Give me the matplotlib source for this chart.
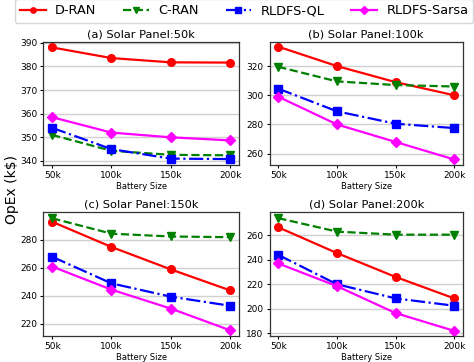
import matplotlib
matplotlib.use("Agg")
import matplotlib.pyplot as plt

battery = ["50k", "100k", "150k", "200k"]
series_names = ["D-RAN", "C-RAN", "RLDFS-QL", "RLDFS-Sarsa"]
titles = ["(a) Solar Panel:50k", "(b) Solar Panel:100k",
          "(c) Solar Panel:150k", "(d) Solar Panel:200k"]

dran = [[388.0, 383.5, 381.7, 381.6],
        [333.3, 320.0, 309.0, 300.0],
        [293.0, 275.0, 259.0, 244.0],
        [266.5, 245.5, 226.0, 208.5]]
cran = [[351.0, 344.3, 342.6, 342.4],
        [319.5, 309.5, 307.0, 306.0],
        [295.5, 284.5, 282.5, 282.0],
        [274.0, 263.0, 260.5, 260.5]]
ql = [[354.0, 345.0, 341.0, 340.8],
      [304.5, 289.0, 280.5, 277.5],
      [268.0, 249.0, 239.5, 233.0],
      [244.0, 220.0, 208.5, 202.5]]
sarsa = [[358.5, 352.0, 350.0, 348.7],
         [299.0, 280.0, 268.0, 256.0],
         [261.0, 244.5, 231.0, 215.5],
         [237.0, 218.5, 196.5, 182.0]]

ylims = [(338.3, 390.3), (252.2, 336.5), (211.4, 300.0), (177.8, 279.0)]
yticks = [[340, 350, 360, 370, 380, 390],
          [260, 280, 300, 320],
          [220, 240, 260, 280],
          [180, 200, 220, 240, 260]]

W, H = 474, 362
fig = plt.figure(figsize=(W / 100, H / 100), dpi=100)

boxes = [(43.3, 42, 239, 165), (269.5, 42, 463, 165),
         (43.3, 212, 239, 336), (269.5, 212, 463, 336)]

styles = [dict(color="red", linestyle="-", marker="o", markersize=5.5),
          dict(color="green", linestyle="--", marker="v", markersize=5.5),
          dict(color="blue", linestyle="-.", marker="s", markersize=5.5),
          dict(color="magenta", linestyle="-", marker="D", markersize=5.5)]

x = list(range(len(battery)))
handles = []
for i, (l, t, r, b) in enumerate(boxes):
    ax = fig.add_axes([l / W, 1 - b / H, (r - l) / W, (b - t) / H])
    data = [dran[i], cran[i], ql[i], sarsa[i]]
    hs = []
    for name, vals, st in zip(series_names, data, styles):
        h, = ax.plot(x, vals, label=name, linewidth=1.6, **st)
        hs.append(h)
    if i == 0:
        handles = hs
    ax.set_xlim(-0.15, 3.15)
    ax.set_ylim(*ylims[i])
    ax.set_xticks(x)
    ax.set_xticklabels(battery)
    ax.set_yticks(yticks[i])
    ax.tick_params(labelsize=6.5, length=2.5, width=0.8, pad=2)
    ax.yaxis.grid(True, color="#d0d0d0", linewidth=1.0)
    ax.set_axisbelow(True)
    ax.set_title(titles[i], fontsize=8.2, pad=3)
    ax.set_xlabel("Battery Size", fontsize=6, labelpad=1)
    for s in ax.spines.values():
        s.set_color("#333333")
        s.set_linewidth(0.9)

fig.text(12 / W, 1 - 190 / H, "OpEx (k$)", rotation=90, fontsize=10,
         ha="center", va="center")

leg = fig.legend(handles, series_names, loc="center", ncol=4,
                 bbox_to_anchor=(244 / W, 1 - 11 / H), fontsize=9.3,
                 frameon=True, handlelength=2.0, columnspacing=2.1,
                 handletextpad=0.7, borderpad=0.4, fancybox=True,
                 markerscale=0.7)
leg.get_frame().set_edgecolor("#cccccc")

fig.savefig("out.png", dpi=100)
